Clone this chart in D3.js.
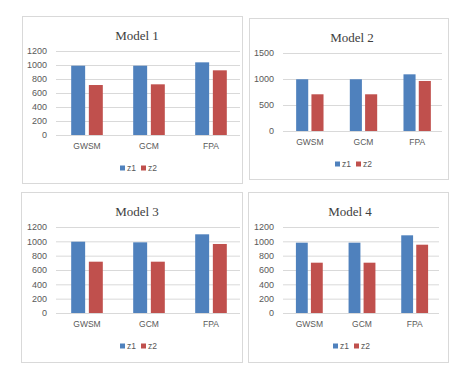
<!DOCTYPE html>
<html>
<head>
<meta charset="utf-8">
<script src="https://cdn.jsdelivr.net/npm/d3@7"></script>
<style>
  body { margin: 0; background: #fff; }
  svg { display: block; }
  .tick text { fill: #595959; font-family: "Liberation Sans", Arial, sans-serif; font-size: 8.5px; }
</style>
</head>
<body>
<svg id="chart" width="474" height="380"></svg>
<script>
let categories = ["GWSM", "GCM", "FPA"],
    seriesNames = ["z1", "z2"],
    modelTitles = ["Model 1", "Model 2", "Model 3", "Model 4"];

// one row per model
let z1Values = [
  [990, 990, 1038],
  [995, 995, 1090],
  [995, 986, 1098],
  [981, 981, 1084]
];
let z2Values = [
  [714, 724, 924],
  [706, 706, 962],
  [716, 716, 963],
  [702, 702, 953]
];
let yMax = [1200, 1500, 1200, 1200],
    yStep = [200, 500, 200, 200];

let colors = { z1: "#4F81BD", z2: "#C0504D" };

// panel boxes and plot areas (pixels)
let panels = [
  { box: [22, 16, 220, 167], x: [56, 242], y: [135, 51], cx: 137 },
  { box: [249, 18, 199, 161], x: [283, 444], y: [131, 53], cx: 352 },
  { box: [21, 192, 221, 170], x: [56, 242], y: [313, 227], cx: 137 },
  { box: [248, 192, 200, 170], x: [283, 441], y: [313, 227], cx: 350 }
];

let svg = d3.select("#chart");

panels.forEach(function(p, i) {
  let g = svg.append("g");

  g.append("rect")
      .attr("x", p.box[0] + 0.5).attr("y", p.box[1] + 0.5)
      .attr("width", p.box[2]).attr("height", p.box[3])
      .attr("fill", "#fff").attr("stroke", "#d9d9d9");

  let x0 = d3.scaleBand().domain(categories).range(p.x)
      .paddingInner(0.49).paddingOuter(0.245);
  let x1 = d3.scaleBand().domain(seriesNames).range([0, x0.bandwidth()])
      .paddingInner(0.21);
  let y = d3.scaleLinear().domain([0, yMax[i]]).range(p.y);

  // gridlines + y labels
  let yAxis = g.append("g")
      .attr("transform", "translate(" + p.x[0] + ",0)")
      .call(d3.axisLeft(y)
        .tickValues(d3.range(0, yMax[i] + 1, yStep[i]))
        .tickFormat(d3.format("d"))
        .tickSize(-(p.x[1] - p.x[0] - 2))
        .tickPadding(9));
  yAxis.select(".domain").remove();
  yAxis.selectAll(".tick line").attr("stroke", "#d9d9d9");
  yAxis.selectAll(".tick text").style("font-size", "9px");

  // bars
  let rows = categories.map(function(c, k) {
    return { cat: c, z1: z1Values[i][k], z2: z2Values[i][k] };
  });
  g.selectAll("g.grp")
    .data(rows)
    .enter().append("g")
      .attr("transform", function(d) { return "translate(" + x0(d.cat) + ",0)"; })
    .selectAll("rect")
    .data(function(d) { return seriesNames.map(function(s) { return { s: s, v: d[s] }; }); })
    .enter().append("rect")
      .attr("x", function(d) { return x1(d.s); })
      .attr("y", function(d) { return y(d.v); })
      .attr("width", x1.bandwidth())
      .attr("height", function(d) { return y(0) - y(d.v); })
      .attr("fill", function(d) { return colors[d.s]; });

  // category axis
  let xAxis = g.append("g")
      .attr("transform", "translate(0," + p.y[0] + ")")
      .call(d3.axisBottom(x0).tickSize(0).tickPadding(8));
  xAxis.select(".domain").attr("stroke", "#d9d9d9").attr("d", "M" + p.x[0] + ",0.5H" + (p.x[1] - 2));

  // title
  g.append("text")
      .attr("x", p.cx).attr("y", p.y[1] - 11)
      .attr("text-anchor", "middle")
      .attr("font-family", "'Liberation Serif', 'Times New Roman', serif")
      .attr("font-size", 13)
      .attr("fill", "#404040")
      .text(modelTitles[i]);

  // legend
  let leg = g.append("g").attr("transform", "translate(" + (p.cx - 17) + "," + (p.y[0] + 33) + ")");
  let item = leg.selectAll("g")
    .data(seriesNames)
    .enter().append("g")
      .attr("transform", function(d, k) { return "translate(" + (k * 21) + ",0)"; });
  item.append("rect")
      .attr("x", 0).attr("y", -2.5)
      .attr("width", 5).attr("height", 5)
      .attr("fill", function(d) { return colors[d]; });
  item.append("text")
      .attr("x", 7).attr("y", 3)
      .attr("font-family", "'Liberation Sans', Arial, sans-serif")
      .attr("font-size", 8.5)
      .attr("fill", "#595959")
      .text(function(d) { return d; });
});
</script>
</body>
</html>
